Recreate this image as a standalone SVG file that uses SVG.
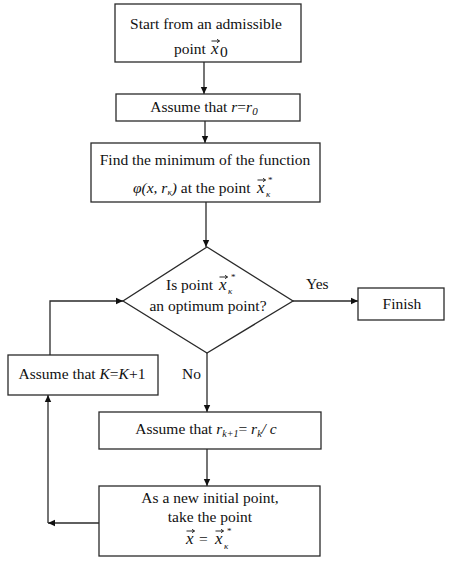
<svg xmlns="http://www.w3.org/2000/svg" width="450" height="562" viewBox="0 0 450 562">
<style>
.box{fill:#fff;stroke:#2a2a2a;stroke-width:1.3}
.ln{fill:none;stroke:#2a2a2a;stroke-width:1.3}
.t{font-family:"Liberation Serif","Times New Roman",serif;font-size:15.5px;fill:#111}
.m{font-family:"Liberation Serif","Times New Roman",serif;font-style:italic;font-size:17px;fill:#111}
.s{font-family:"Liberation Serif","Times New Roman",serif;font-style:italic;font-size:9px;fill:#111}
.st{font-family:"Liberation Serif","Times New Roman",serif;font-size:9px;fill:#111}
.va{fill:none;stroke:#111;stroke-width:0.9}
</style>
<defs>
<marker id="ah" markerWidth="8" markerHeight="8" refX="7" refY="4" orient="auto" markerUnits="userSpaceOnUse">
<path d="M0,0.8 L7,4 L0,7.2 Z" fill="#111"/>
</marker>
</defs>
<rect width="450" height="562" fill="#fff"/>
<g id="connectors">
<line class="ln" x1="204" y1="62" x2="204" y2="94" marker-end="url(#ah)"/>
<line class="ln" x1="205" y1="121" x2="205" y2="143" marker-end="url(#ah)"/>
<line class="ln" x1="206" y1="202" x2="206" y2="247" marker-end="url(#ah)"/>
<line class="ln" x1="293" y1="301" x2="358" y2="301" marker-end="url(#ah)"/>
<polyline class="ln" points="50,355 50,301 123,301" marker-end="url(#ah)"/>
<line class="ln" x1="207" y1="353" x2="207" y2="412" marker-end="url(#ah)"/>
<line class="ln" x1="207" y1="449" x2="207" y2="486" marker-end="url(#ah)"/>
<line class="ln" x1="99" y1="523" x2="48" y2="523" marker-end="url(#ah)"/>
<line class="ln" x1="48" y1="523" x2="48" y2="395" marker-end="url(#ah)"/>
<text class="t" x="306" y="289">Yes</text>
<text class="t" x="182" y="379">No</text>
</g>
<g id="start">
<rect class="box" x="115" y="4" width="186" height="58"/>
<text class="t" x="206" y="29" text-anchor="middle">Start from an admissible</text>
<text class="t" x="174" y="54">point</text>
<text class="m" x="211" y="54">x</text>
<text class="t" x="220" y="57" font-size="11">0</text>
<path class="va" d="M211.5,41 h8 M217,39.3 l2.5,1.7 l-2.5,1.7"/>
</g>
<g id="assume-r0">
<rect class="box" x="116" y="94" width="184" height="27"/>
<text class="t" x="204" y="112" text-anchor="middle">Assume that <tspan font-style="italic">r</tspan>=<tspan font-style="italic">r</tspan><tspan font-style="italic" font-size="11" dy="3">0</tspan></text>
</g>
<g id="find-min">
<rect class="box" x="91" y="143" width="229" height="59"/>
<text class="t" x="205" y="165" text-anchor="middle">Find the minimum of the function</text>
<text class="t" x="133" y="193"><tspan font-style="italic">φ(x, r</tspan><tspan font-style="italic" font-size="9" dy="2">κ</tspan><tspan font-style="italic" dy="-2">)</tspan> at the point</text>
<text class="m" x="257" y="193">x</text>
<text class="s" x="266" y="197">κ</text>
<text class="st" x="268" y="183">*</text>
<path class="va" d="M257.5,180 h8 M263,178.3 l2.5,1.7 l-2.5,1.7"/>
</g>
<g id="decision">
<polygon class="box" points="207,247 293,301 207,353 123,301"/>
<text class="t" x="166" y="290">Is point</text>
<text class="m" x="219" y="290">x</text>
<text class="s" x="228" y="294">κ</text>
<text class="st" x="231" y="280">*</text>
<path class="va" d="M219.5,277 h8 M225,275.3 l2.5,1.7 l-2.5,1.7"/>
<text class="t" x="208" y="311" text-anchor="middle">an optimum point?</text>
</g>
<g id="finish">
<rect class="box" x="358" y="288" width="86" height="32"/>
<text class="t" x="402" y="309" text-anchor="middle">Finish</text>
</g>
<g id="increment-k">
<rect class="box" x="8" y="355" width="150" height="40"/>
<text class="t" x="82" y="379" text-anchor="middle">Assume that <tspan font-style="italic">K</tspan>=<tspan font-style="italic">K</tspan>+1</text>
</g>
<g id="assume-rk">
<rect class="box" x="99" y="412" width="222" height="37"/>
<text class="t" x="206" y="434" text-anchor="middle">Assume that <tspan font-style="italic">r</tspan><tspan font-style="italic" font-size="10" dy="3">k+1</tspan><tspan dy="-3">= </tspan><tspan font-style="italic">r</tspan><tspan font-style="italic" font-size="10" dy="3">k</tspan><tspan dy="-3" font-style="italic">/ c</tspan></text>
</g>
<g id="new-point">
<rect class="box" x="99" y="486" width="221" height="70"/>
<text class="t" x="210" y="503" text-anchor="middle">As a new initial point,</text>
<text class="t" x="210" y="522" text-anchor="middle">take the point</text>
<text class="m" x="186" y="544">x</text>
<path class="va" d="M186.5,531 h8 M192,529.3 l2.5,1.7 l-2.5,1.7"/>
<text class="t" x="199" y="544">=</text>
<text class="m" x="215" y="544">x</text>
<path class="va" d="M215.5,531 h8 M221,529.3 l2.5,1.7 l-2.5,1.7"/>
<text class="s" x="224" y="549">κ</text>
<text class="st" x="227" y="534">*</text>
</g>
</svg>
